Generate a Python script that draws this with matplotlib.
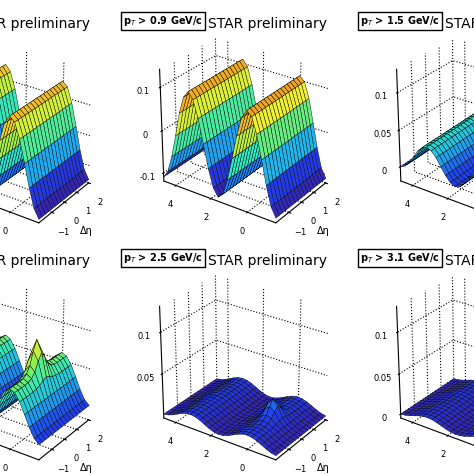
import numpy as np
import matplotlib.pyplot as plt
from matplotlib import colors
from matplotlib.ticker import FuncFormatter

plt.rcParams['grid.linestyle'] = ':'
plt.rcParams['grid.color'] = 'black'

# delta-phi bins and delta-eta bins
dphi = [-1.5, -1.24, -0.98, -0.73, -0.47, -0.21, 0.05, 0.31, 0.57, 0.82, 1.08, 1.34,
        1.60, 1.86, 2.12, 2.37, 2.63, 2.89, 3.15, 3.41, 3.67, 3.92, 4.18, 4.44, 4.70]
deta = [-2.0, -1.75, -1.5, -1.25, -1.0, -0.75, -0.5, -0.25, 0.0, 0.25, 0.5, 0.75,
        1.0, 1.25, 1.5, 1.75, 2.0]

# common shape along delta-phi (normalised)
phi_shape = [-0.99, -0.79, -0.38, 0.11, 0.59, 0.91, 1.0, 0.82, 0.42, -0.07, -0.56, -0.90,
             -1.0, -0.84, -0.46, 0.02, 0.52, 0.87, 1.0, 0.86, 0.50, 0.0, -0.48, -0.84, -1.0]
# where the near-side peak sits along delta-phi
near_phi = [0, 0, 0, 0, 0.2, 0.7, 1.0, 0.7, 0.2, 0, 0, 0,
            0, 0, 0, 0, 0, 0, 0, 0, 0, 0, 0, 0, 0]
# near-side peak along delta-eta
near_eta = [0, 0, 0, 0, 0.02, 0.1, 0.3, 0.7, 1.0, 0.7, 0.3, 0.1, 0.02, 0, 0, 0, 0]

panels = ['a', 'b', 'c', 'd', 'e', 'f']
amplitude = [0.30, 0.11, 0.02, 0.03, 0.006, 0.004]
offset = [0.0, 0.0, 0.02, 0.03, 0.006, 0.004]
near_height = [0.0, 0.0, 0.03, 0.04, 0.02, 0.025]

labels = [None, 'p$_T$ > 0.9 GeV/c', 'p$_T$ > 1.5 GeV/c',
          None, 'p$_T$ > 2.5 GeV/c', 'p$_T$ > 3.1 GeV/c']
zlims = [(-0.32, 0.42), (-0.12, 0.14), (-0.02, 0.13),
         (-0.02, 0.13), (-0.005, 0.13), (-0.005, 0.13)]
zticks = [[-0.2, 0, 0.2], [-0.1, 0, 0.1], [0, 0.05, 0.1],
          [0, 0.05, 0.1], [0.05, 0.1], [0, 0.05, 0.1]]

# ROOT-like rainbow palette
root_pal = colors.LinearSegmentedColormap.from_list(
    'root', ['#3a1fa8', '#1f3ff0', '#1fb0f0', '#30e8c0', '#90f050', '#f0f030',
             '#f0a020', '#e04010'])

fig = plt.figure(figsize=(4.74, 4.74), dpi=100)
E, P = np.meshgrid(deta, dphi)
shape = np.array(phi_shape)[:, None]
peak = np.array(near_phi)[:, None] * np.array(near_eta)[None, :]
fmt = FuncFormatter(lambda v, _: f'{v:g}')

for i, key in enumerate(panels):
    row, col = divmod(i, 3)
    cx = col * 0.5
    by = 0.5 - row * 0.5
    ax = fig.add_axes([cx - 0.25, by - 0.0, 0.52, 0.45], projection='3d')
    Z = offset[i] + amplitude[i] * shape + near_height[i] * peak
    Z = np.broadcast_to(Z, P.shape)
    lo, hi = zlims[i]
    norm = colors.Normalize(lo, hi)
    ax.plot_surface(E, P, Z, facecolors=root_pal(norm(Z)),
                    edgecolor='black', linewidth=0.3, shade=False)
    ax.set_zlim(lo, hi)
    ax.set_xlim(-2, 2)
    ax.set_ylim(-1.5, 4.7)
    ax.set_yticks([0, 2, 4])
    ax.set_xticks([-1, 0, 1, 2])
    ax.set_zticks(zticks[i])
    ax.zaxis.set_major_formatter(fmt)
    ax.tick_params(labelsize=6, pad=0)
    ax.set_xlabel('Δη', fontsize=7, labelpad=-6)
    ax.set_box_aspect((0.8, 1.2, 1.1), zoom=0.95)
    for a in (ax.xaxis, ax.yaxis, ax.zaxis):
        a.set_pane_color((1, 1, 1, 0))
    ax.view_init(elev=28, azim=-145)
    fig.text(cx + 0.065, by + 0.44, 'STAR preliminary', fontsize=10, ha='center')
    if labels[i]:
        fig.text(cx - 0.24, by + 0.45, labels[i], fontsize=7, fontweight='bold',
                 bbox=dict(facecolor='white', edgecolor='black', pad=1.5))

fig.savefig('out.png', dpi=100)
